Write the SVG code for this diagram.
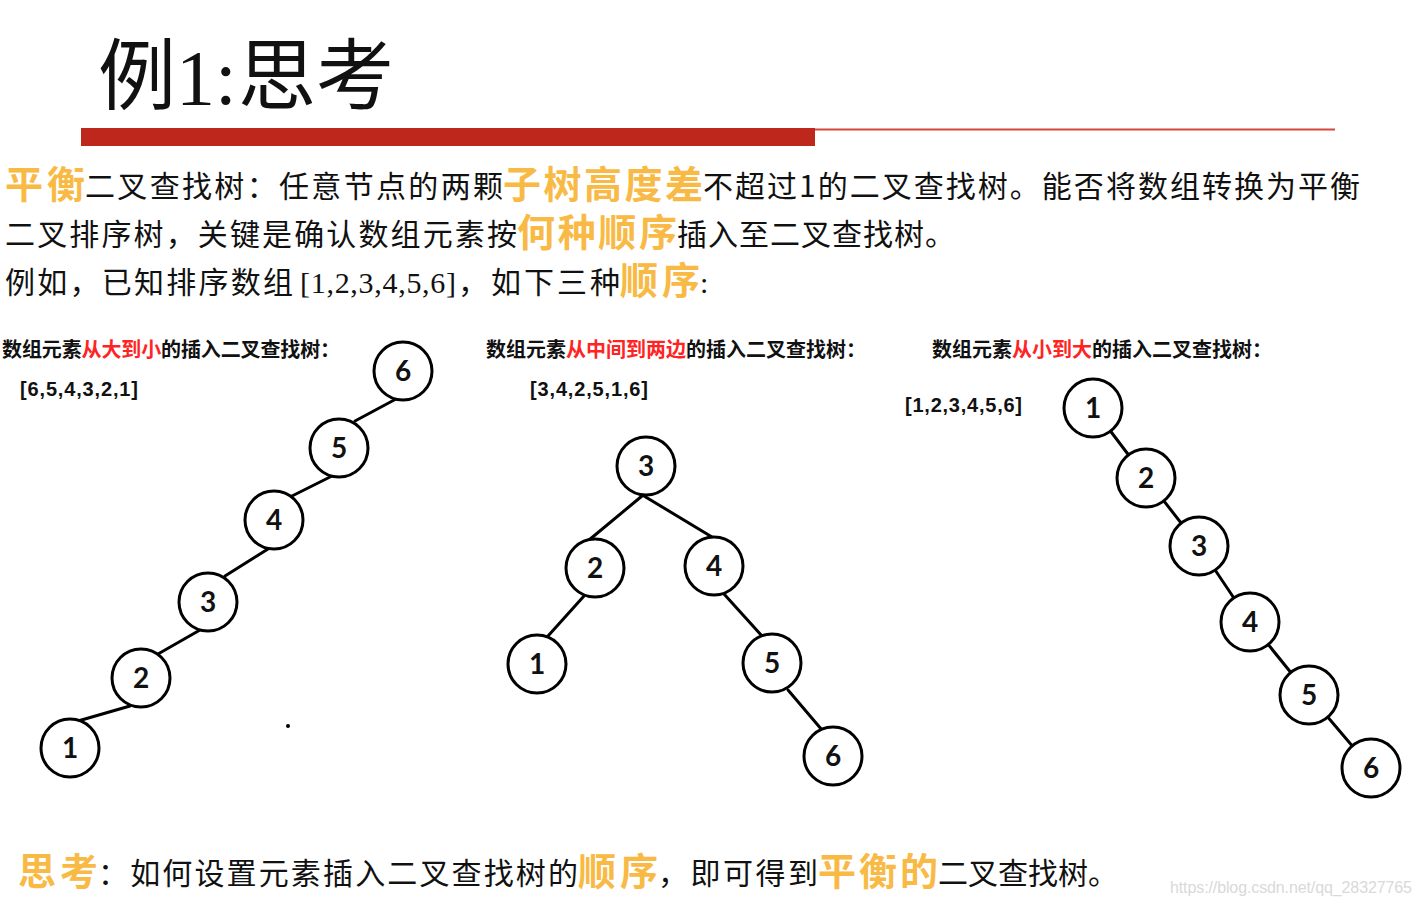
<svg xmlns="http://www.w3.org/2000/svg" width="1422" height="908" viewBox="0 0 1422 908">
<style>
.cn{font-family:"Noto Sans CJK SC","Noto Sans",sans-serif;fill:#111}
.n{font-size:30px}
.hl{font-size:38px;font-weight:700;fill:#F8BA45}
.sr{font-family:"Liberation Serif","Noto Sans CJK SC",serif;fill:#111}
.h{font-family:"Noto Sans CJK SC",sans-serif;font-size:20px;font-weight:700;fill:#111}
.red{fill:#FF2424}
.arr{font-family:"Liberation Sans",Arial,sans-serif;font-size:20px;font-weight:700;fill:#111}
.nd circle{fill:#fff;stroke:#000;stroke-width:3}
.nd text{font-family:Lato,"Open Sans",sans-serif;font-size:28px;font-weight:700;fill:#111;text-anchor:middle}
.edge line{stroke:#000;stroke-width:3;stroke-linecap:round}
</style>
<rect width="1422" height="908" fill="#fff"/>
<g id="title">
<text y="104" font-size="78"><tspan class="cn" x="98">例</tspan><tspan class="sr">1:</tspan><tspan class="cn" x="238">思考</tspan></text>
<rect x="81" y="128" width="734" height="18" fill="#BE271C"/>
<line x1="815" y1="129.5" x2="1335" y2="129.5" stroke="#D6463C" stroke-width="2"/>
</g>
<g id="intro">
<text class="cn hl" x="5" y="198" textLength="80">平衡</text>
<text class="cn n" x="85" y="197" textLength="418">二叉查找树：任意节点的两颗</text>
<text class="cn hl" x="503" y="198" textLength="200">子树高度差</text>
<text class="cn n" x="703" y="197" textLength="657">不超过1的二叉查找树。能否将数组转换为平衡</text>
<text class="cn n" x="5" y="245" textLength="512">二叉排序树，关键是确认数组元素按</text>
<text class="cn hl" x="517" y="246" textLength="160">何种顺序</text>
<text class="cn n" x="677" y="245" textLength="278">插入至二叉查找树。</text>
<text class="cn n" x="5" y="293" textLength="288">例如，已知排序数组</text>
<text class="sr" x="300" y="293" font-size="30" textLength="156">[1,2,3,4,5,6]</text>
<text class="cn n" x="458" y="293" textLength="162">，如下三种</text>
<text class="cn hl" x="620" y="294" textLength="80">顺序</text>
<text class="sr" x="700" y="293" font-size="30">:</text>
</g>
<g id="headings">
<text class="h" x="2" y="357" textLength="338">数组元素<tspan class="red">从大到小</tspan>的插入二叉查找树：</text>
<text class="arr" x="20" y="396" textLength="118">[6,5,4,3,2,1]</text>
<text class="h" x="486" y="357" textLength="380">数组元素<tspan class="red">从中间到两边</tspan>的插入二叉查找树：</text>
<text class="arr" x="530" y="396" textLength="118">[3,4,2,5,1,6]</text>
<text class="h" x="932" y="357" textLength="340">数组元素<tspan class="red">从小到大</tspan>的插入二叉查找树：</text>
<text class="arr" x="905" y="412" textLength="117">[1,2,3,4,5,6]</text>
</g>
<g id="connectors" class="edge">
<line x1="396" y1="399" x2="355" y2="421"/>
<line x1="332" y1="476" x2="290" y2="497"/>
<line x1="268" y1="549" x2="225" y2="576"/>
<line x1="200" y1="630" x2="158" y2="654"/>
<line x1="130" y1="706" x2="78" y2="721"/>
<line x1="642" y1="496" x2="583" y2="545"/>
<line x1="644" y1="496" x2="712" y2="537"/>
<line x1="584" y1="596" x2="548" y2="636"/>
<line x1="724" y1="594" x2="762" y2="636"/>
<line x1="788" y1="690" x2="822" y2="730"/>
<line x1="1093" y1="408" x2="1146" y2="478"/>
<line x1="1146" y1="478" x2="1199" y2="546"/>
<line x1="1199" y1="546" x2="1250" y2="622"/>
<line x1="1250" y1="622" x2="1309" y2="695"/>
<line x1="1309" y1="695" x2="1371" y2="768"/>
</g>
<g id="t1-6" class="nd"><circle cx="403" cy="371" r="29"/><text x="403" y="381">6</text></g>
<g id="t1-5" class="nd"><circle cx="339" cy="448" r="29"/><text x="339" y="458">5</text></g>
<g id="t1-4" class="nd"><circle cx="274" cy="520" r="29"/><text x="274" y="530">4</text></g>
<g id="t1-3" class="nd"><circle cx="208" cy="602" r="29"/><text x="208" y="612">3</text></g>
<g id="t1-2" class="nd"><circle cx="141" cy="678" r="29"/><text x="141" y="688">2</text></g>
<g id="t1-1" class="nd"><circle cx="70" cy="748" r="29"/><text x="70" y="758">1</text></g>
<g id="t2-3" class="nd"><circle cx="646" cy="466" r="29"/><text x="646" y="476">3</text></g>
<g id="t2-2" class="nd"><circle cx="595" cy="568" r="29"/><text x="595" y="578">2</text></g>
<g id="t2-4" class="nd"><circle cx="714" cy="566" r="29"/><text x="714" y="576">4</text></g>
<g id="t2-1" class="nd"><circle cx="537" cy="664" r="29"/><text x="537" y="674">1</text></g>
<g id="t2-5" class="nd"><circle cx="772" cy="663" r="29"/><text x="772" y="673">5</text></g>
<g id="t2-6" class="nd"><circle cx="833" cy="756" r="29"/><text x="833" y="766">6</text></g>
<g id="t3-1" class="nd"><circle cx="1093" cy="408" r="29"/><text x="1093" y="418">1</text></g>
<g id="t3-2" class="nd"><circle cx="1146" cy="478" r="29"/><text x="1146" y="488">2</text></g>
<g id="t3-3" class="nd"><circle cx="1199" cy="546" r="29"/><text x="1199" y="556">3</text></g>
<g id="t3-4" class="nd"><circle cx="1250" cy="622" r="29"/><text x="1250" y="632">4</text></g>
<g id="t3-5" class="nd"><circle cx="1309" cy="695" r="29"/><text x="1309" y="705">5</text></g>
<g id="t3-6" class="nd"><circle cx="1371" cy="768" r="29"/><text x="1371" y="778">6</text></g>
<circle cx="288" cy="726" r="2" fill="#000"/>
<g id="conclusion">
<text class="cn hl" x="18" y="885" textLength="80">思考</text>
<text class="cn n" x="98" y="884" textLength="480">：如何设置元素插入二叉查找树的</text>
<text class="cn hl" x="578" y="885" textLength="80">顺序</text>
<text class="cn n" x="658" y="884" textLength="160">，即可得到</text>
<text class="cn hl" x="818" y="885" textLength="120">平衡的</text>
<text class="cn n" x="938" y="884" textLength="180">二叉查找树。</text>
</g>
<text x="1170" y="893" font-family="Liberation Sans,Arial,sans-serif" font-size="16" fill="#d9d9d9" textLength="242">https://blog.csdn.net/qq_28327765</text>
</svg>
